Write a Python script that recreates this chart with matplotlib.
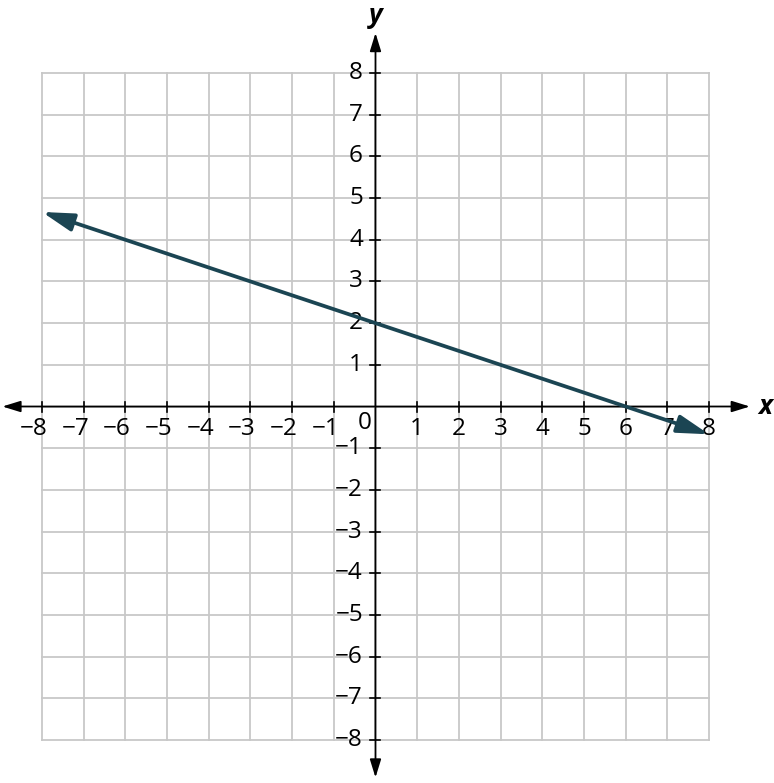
import numpy as np
import matplotlib.pyplot as plt

# line y = -x/3 + 2 drawn across the grid with arrows at both ends
line_x = [-8, 8]
line_y = [14 / 3, -2 / 3]
ticks = [-8, -7, -6, -5, -4, -3, -2, -1, 1, 2, 3, 4, 5, 6, 7, 8]

plt.rcParams['font.family'] = ['Open Sans', 'DejaVu Sans']

fig = plt.figure(figsize=(7.74, 7.83), dpi=100)
ax = fig.add_axes([0, 0, 1, 1])
ax.set_xlim(-9.007, 9.559)
ax.set_ylim(-9.031, 9.751)
ax.axis('off')

# grid
for g in range(-8, 9):
    ax.plot([g, g], [-8, 8], color='#c8c8c8', lw=1.3, zorder=1)
    ax.plot([-8, 8], [g, g], color='#c8c8c8', lw=1.3, zorder=1)

# axes with arrows
axis_style = dict(arrowstyle='<|-|>,head_length=0.55,head_width=0.17',
                  color='black', lw=1.3, mutation_scale=20, shrinkA=0, shrinkB=0)
ax.annotate('', xy=(8.98, 0), xytext=(-8.95, 0), arrowprops=axis_style, zorder=2)
ax.annotate('', xy=(0, 8.96), xytext=(0, -8.9), arrowprops=axis_style, zorder=2)

# tick marks and labels
for t in ticks:
    ax.plot([t, t], [-0.12, 0.12], color='black', lw=1.2, zorder=2)
    ax.plot([-0.12, 0.12], [t, t], color='black', lw=1.2, zorder=2)
    lab = str(t).replace('-', '\u2212')
    xoff = -0.2 if t < 0 else 0
    ax.text(t + xoff, -0.54, lab, ha='center', va='center', fontsize=17.5)
    ax.text(-0.3, t, lab, ha='right', va='center', fontsize=17.5)
ax.text(-0.25, -0.4, '0', ha='center', va='center', fontsize=17.5)

ax.text(0, 9.39, 'y', ha='center', va='center', fontsize=19,
        fontweight='bold', fontstyle='italic')
ax.text(9.34, 0, 'x', ha='center', va='center', fontsize=19,
        fontweight='bold', fontstyle='italic')

# the line
ax.annotate('', xy=(line_x[0], line_y[0]), xytext=(line_x[1], line_y[1]),
            arrowprops=dict(arrowstyle='<|-|>,head_length=0.95,head_width=0.27',
                            color='#1b4553', lw=2.7, mutation_scale=20,
                            shrinkA=0, shrinkB=0), zorder=3)

fig.savefig('out.png', dpi=100)
